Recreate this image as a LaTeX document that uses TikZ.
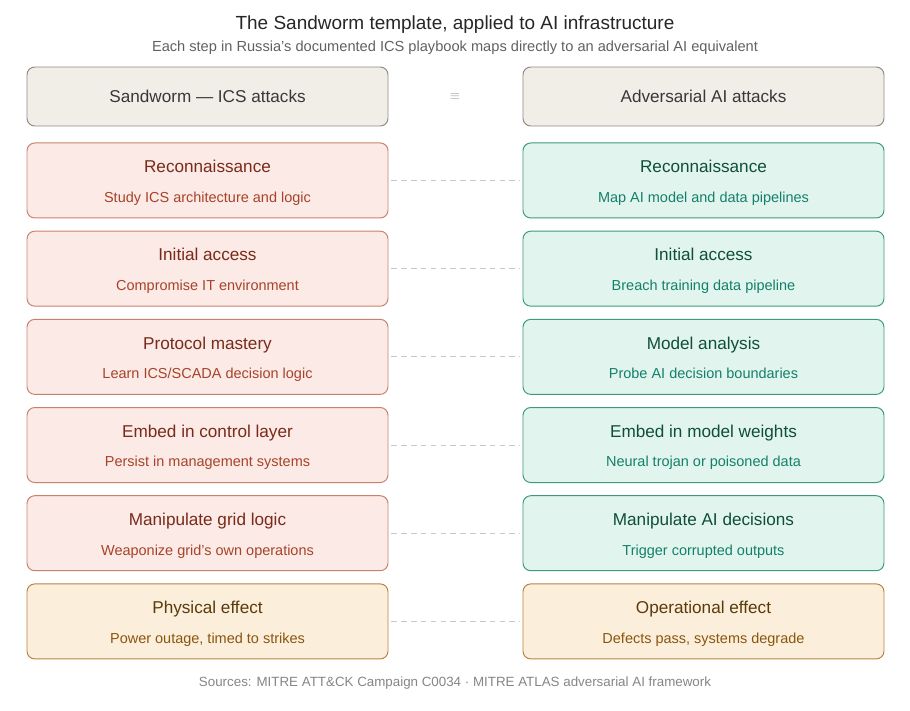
\documentclass[tikz,border=0pt]{standalone}
\usepackage{fontspec}
\setmainfont{Liberation Sans}
\usepackage{xcolor}
\usetikzlibrary{positioning}
\definecolor{sgray}{HTML}{8E8C84}
\definecolor{shead}{HTML}{F1EEE7}
\definecolor{sred}{HTML}{C8826C}
\definecolor{sredfill}{HTML}{FBEAE5}
\definecolor{sredtitle}{HTML}{7A2A1A}
\definecolor{sreddesc}{HTML}{A8432A}
\definecolor{sgreen}{HTML}{3E9A7E}
\definecolor{sgreenfill}{HTML}{E1F5EE}
\definecolor{sgreentitle}{HTML}{0F4E3C}
\definecolor{sgreendesc}{HTML}{14806A}
\definecolor{sorange}{HTML}{B88442}
\definecolor{sorangefill}{HTML}{FBEFDB}
\definecolor{sorangetitle}{HTML}{5A3A0A}
\definecolor{sorangedesc}{HTML}{8A5510}
\definecolor{sdash}{HTML}{C8C8C8}
\newcommand{\ttl}[1]{{\fontsize{12.2pt}{21pt}\selectfont\rule{0pt}{13pt}#1}}

\begin{document}
\begin{tikzpicture}
    % Define styles
    \tikzstyle{box} = [rectangle, rounded corners=5.5pt, line width=0.7pt, minimum width=9.025cm,
                       minimum height=1.875cm, align=center, inner sep=0pt,
                       font=\fontsize{10.3pt}{21pt}\selectfont]
    \tikzstyle{head} = [box, draw=sgray, fill=shead, minimum height=1.475cm,
                        font=\fontsize{12.2pt}{14pt}\selectfont, text=black!78]
    \tikzstyle{twoline} = [box, execute at end node={\rule[-3pt]{0pt}{3pt}}]
    \tikzstyle{ics} = [twoline, draw=sred, fill=sredfill, text=sreddesc]
    \tikzstyle{ai} = [twoline, draw=sgreen, fill=sgreenfill, text=sgreendesc]
    \tikzstyle{effect} = [twoline, draw=sorange, fill=sorangefill, text=sorangedesc]
    \tikzstyle{link} = [sdash, line width=0.7pt, dash pattern=on 4pt off 3pt, shorten <=2pt, shorten >=2pt]

    \useasboundingbox (0,0) rectangle (22.75,-17.75);

    % Titles
    \node[font=\fontsize{13.5pt}{16pt}\selectfont, text=black!85] (title) at (11.375,-0.625)
        {The Sandworm template, applied to AI infrastructure};
    \node[font=\fontsize{10.4pt}{12pt}\selectfont, text=black!62] (subtitle) at (11.375,-1.2)
        {Each step in Russia's documented ICS playbook maps directly to an adversarial AI equivalent};

    % Column heads
    \node[head] (hdrL) at (5.1875,-2.4125) {Sandworm --- ICS attacks};
    \node[head, right=3.35cm of hdrL] (hdrR) {Adversarial AI attacks};
    \node[text=black!40, font=\fontsize{9pt}{10pt}\selectfont] (eq) at (11.375,-2.4125) {$\equiv$};

    % Left column
    \node[ics, below=0.4cm of hdrL] (reconL)
        {\textcolor{sredtitle}{\ttl{Reconnaissance}}\\Study ICS architecture and logic};
    \node[ics, below=0.305cm of reconL] (accessL)
        {\textcolor{sredtitle}{\ttl{Initial access}}\\Compromise IT environment};
    \node[ics, below=0.305cm of accessL] (protoL)
        {\textcolor{sredtitle}{\ttl{Protocol mastery}}\\Learn ICS/SCADA decision logic};
    \node[ics, below=0.305cm of protoL] (embedL)
        {\textcolor{sredtitle}{\ttl{Embed in control layer}}\\Persist in management systems};
    \node[ics, below=0.305cm of embedL] (manipL)
        {\textcolor{sredtitle}{\ttl{Manipulate grid logic}}\\Weaponize grid's own operations};
    \node[effect, below=0.305cm of manipL] (effectL)
        {\textcolor{sorangetitle}{\ttl{Physical effect}}\\Power outage, timed to strikes};

    % Right column
    \node[ai, right=3.35cm of reconL] (reconR)
        {\textcolor{sgreentitle}{\ttl{Reconnaissance}}\\Map AI model and data pipelines};
    \node[ai, right=3.35cm of accessL] (accessR)
        {\textcolor{sgreentitle}{\ttl{Initial access}}\\Breach training data pipeline};
    \node[ai, right=3.35cm of protoL] (protoR)
        {\textcolor{sgreentitle}{\ttl{Model analysis}}\\Probe AI decision boundaries};
    \node[ai, right=3.35cm of embedL] (embedR)
        {\textcolor{sgreentitle}{\ttl{Embed in model weights}}\\Neural trojan or poisoned data};
    \node[ai, right=3.35cm of manipL] (manipR)
        {\textcolor{sgreentitle}{\ttl{Manipulate AI decisions}}\\Trigger corrupted outputs};
    \node[effect, right=3.35cm of effectL] (effectR)
        {\textcolor{sorangetitle}{\ttl{Operational effect}}\\Defects pass, systems degrade};

    % Links
    \draw[link] (reconL) -- (reconR);
    \draw[link] (accessL) -- (accessR);
    \draw[link] (protoL) -- (protoR);
    \draw[link] (embedL) -- (embedR);
    \draw[link] (manipL) -- (manipR);
    \draw[link] (effectL) -- (effectR);

    % Footer
    \node[font=\fontsize{9.5pt}{11pt}\selectfont, text=black!48] (sources) at (11.375,-17.075)
        {Sources: MITRE ATT\&CK Campaign C0034 · MITRE ATLAS adversarial AI framework};
\end{tikzpicture}
\end{document}
